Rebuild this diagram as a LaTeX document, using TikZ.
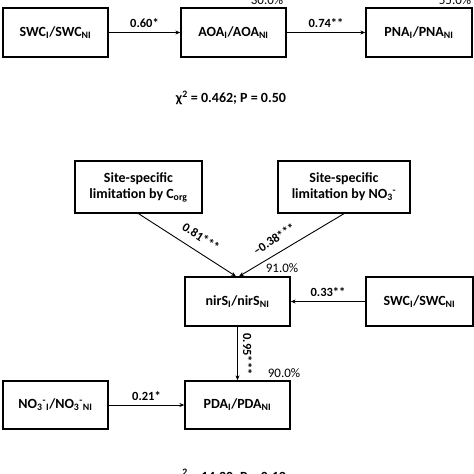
\documentclass[tikz,border=0pt]{standalone}
\usepackage{fontspec}
\setmainfont{Carlito}
\usetikzlibrary{arrows.meta}
\begin{document}
\begin{tikzpicture}[x=1pt, y=-1pt, font=\bfseries\fontsize{14}{16}\selectfont,
  box/.style={draw, line width=1.3pt, minimum width=105pt, minimum height=49pt, inner sep=1pt, align=center},
  path/.style={line width=0.9pt, -{Stealth[length=5pt, width=4pt]}},
  coef/.style={font=\bfseries\fontsize{12.5}{14}\selectfont},
  expl/.style={font=\fontsize{13}{15}\selectfont}]
\useasboundingbox (0,0) rectangle (474,474);
% upper model
\node[box] (swcA) at (55.5, 32.5) {SWC\textsubscript{I}/SWC\textsubscript{NI}};
\node[box] (aoa) at (233.5, 32.5) {AOA\textsubscript{I}/AOA\textsubscript{NI}};
\node[box, minimum width=106pt] (pna) at (419, 32.5) {PNA\textsubscript{I}/PNA\textsubscript{NI}};
\draw[path] (swcA) -- node[coef, above=1pt] {0.60*} (aoa);
\draw[path] (aoa) -- node[coef, above=1pt] {0.74**} (pna);
\node[expl, anchor=base] (aoaR) at (267, 4) {30.0\%};
\node[expl, anchor=base] (pnaR) at (455, 4) {55.0\%};
\node[coef, font=\bfseries\fontsize{14}{16}\selectfont] (fitA) at (231, 98) {χ\textsuperscript{2} = 0.462; P = 0.50};
% lower model
\node[box, minimum width=127pt, minimum height=52pt] (corg) at (138.5, 187) {Site-specific\\limitation by C\textsubscript{org}};
\node[box, minimum width=132pt, minimum height=52pt] (nitr) at (344, 187) {Site-specific\\limitation by NO\textsubscript{3}\textsuperscript{-}};
\node[box] (nirs) at (237.5, 301.5) {nirS\textsubscript{I}/nirS\textsubscript{NI}};
\node[box, minimum width=107pt] (swcB) at (419.5, 301.5) {SWC\textsubscript{I}/SWC\textsubscript{NI}};
\node[box, minimum height=48pt] (pda) at (237.5, 405) {PDA\textsubscript{I}/PDA\textsubscript{NI}};
\node[box, minimum height=48pt] (no3) at (55.5, 405) {NO\textsubscript{3}\textsuperscript{-}\textsubscript{I}/NO\textsubscript{3}\textsuperscript{-}\textsubscript{NI}};
\draw[path] (corg.south) -- ([xshift=-1.5pt]nirs.north);
\draw[path] (nitr.south) -- ([xshift=1.5pt]nirs.north);
\node[coef, rotate=-33] (corgC) at (201, 237) {0.81***};
\node[coef, rotate=33] (nitrC) at (274, 239) {–0.38***};
\draw[path] (swcB) -- node[coef, above=1pt] {0.33**} (nirs);
\draw[path] (nirs) -- (pda);
\node[coef, rotate=-90] (nirsC) at (247.5, 354) {0.95***};
\draw[path] (no3) -- node[coef, above=1pt] {0.21*} (pda);
\node[expl] (nirsR) at (282, 268) {91.0\%};
\node[expl] (pdaR) at (284, 373) {90.0\%};
\node[coef, anchor=base, font=\bfseries\fontsize{14}{16}\selectfont] (fitB) at (231, 481) {χ\textsuperscript{2} = 14.20; P = 0.12};
\end{tikzpicture}
\end{document}
